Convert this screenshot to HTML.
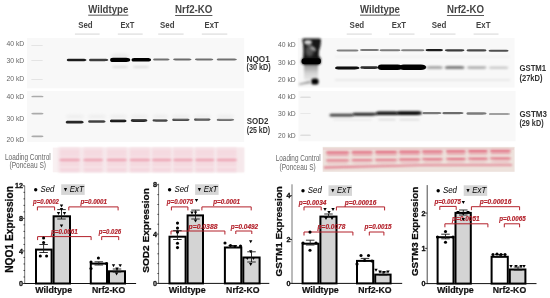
<!DOCTYPE html><html><head><meta charset="utf-8"><title>Nrf2 figure</title><style>html,body{margin:0;padding:0;background:#fff;overflow:hidden}svg{display:block}text{font-family:"Liberation Sans",Arial,sans-serif}</style></head><body>
<svg width="550" height="298" viewBox="0 0 550 298">
<defs>
<filter id="bl4" x="-50%" y="-300%" width="200%" height="700%"><feGaussianBlur stdDeviation="0.4"/></filter>
<filter id="bl5" x="-50%" y="-300%" width="200%" height="700%"><feGaussianBlur stdDeviation="0.5"/></filter>
<filter id="bl6" x="-50%" y="-300%" width="200%" height="700%"><feGaussianBlur stdDeviation="0.6"/></filter>
<filter id="bl7" x="-50%" y="-300%" width="200%" height="700%"><feGaussianBlur stdDeviation="0.7"/></filter>
<filter id="bl8" x="-50%" y="-300%" width="200%" height="700%"><feGaussianBlur stdDeviation="0.8"/></filter>
<filter id="bl9" x="-50%" y="-300%" width="200%" height="700%"><feGaussianBlur stdDeviation="0.9"/></filter>
<filter id="bl10" x="-50%" y="-300%" width="200%" height="700%"><feGaussianBlur stdDeviation="1.0"/></filter>
<filter id="bl12" x="-50%" y="-300%" width="200%" height="700%"><feGaussianBlur stdDeviation="1.2"/></filter>
<filter id="bl14" x="-50%" y="-300%" width="200%" height="700%"><feGaussianBlur stdDeviation="1.4"/></filter>
<filter id="bl16" x="-50%" y="-300%" width="200%" height="700%"><feGaussianBlur stdDeviation="1.6"/></filter>
<filter id="bl20" x="-50%" y="-300%" width="200%" height="700%"><feGaussianBlur stdDeviation="2.0"/></filter>
<filter id="bl25" x="-50%" y="-300%" width="200%" height="700%"><feGaussianBlur stdDeviation="2.5"/></filter>
</defs>
<rect width="550" height="298" fill="#fff"/>
<text transform="translate(88.20,12.60) scale(0.9364,1)" font-size="10.3" font-weight="bold" fill="#444">Wildtype</text>
<rect x="88.2" y="14.7" width="40.1" height="0.9" fill="#444"/>
<text transform="translate(175.10,12.90) scale(0.9447,1)" font-size="10.3" font-weight="bold" fill="#444">Nrf2-KO</text>
<rect x="175.1" y="15.0" width="37.3" height="0.9" fill="#444"/>
<text transform="translate(78.20,28.40) scale(0.8594,1)" font-size="9.2" font-weight="bold" fill="#444">Sed</text>
<text transform="translate(120.50,28.40) scale(0.8179,1)" font-size="9.2" font-weight="bold" fill="#444">ExT</text>
<text transform="translate(160.00,28.40) scale(0.8594,1)" font-size="9.2" font-weight="bold" fill="#444">Sed</text>
<text transform="translate(204.50,28.40) scale(0.8416,1)" font-size="9.2" font-weight="bold" fill="#444">ExT</text>
<rect x="74.9" y="33.7" width="24.7" height="0.7" fill="#c4c4c4"/>
<rect x="117.8" y="33.7" width="24.9" height="0.7" fill="#c4c4c4"/>
<rect x="158.2" y="33.7" width="25.4" height="0.7" fill="#c4c4c4"/>
<rect x="201.8" y="33.7" width="25.5" height="0.7" fill="#c4c4c4"/>
<text transform="translate(360.00,12.60) scale(0.9340,1)" font-size="10.3" font-weight="bold" fill="#444">Wildtype</text>
<rect x="360.0" y="14.7" width="40.0" height="0.9" fill="#444"/>
<text transform="translate(446.90,12.90) scale(0.9396,1)" font-size="10.3" font-weight="bold" fill="#444">Nrf2-KO</text>
<rect x="446.9" y="15.0" width="37.1" height="0.9" fill="#444"/>
<text transform="translate(349.60,28.40) scale(0.8653,1)" font-size="9.2" font-weight="bold" fill="#444">Sed</text>
<text transform="translate(391.80,28.40) scale(0.8416,1)" font-size="9.2" font-weight="bold" fill="#444">ExT</text>
<text transform="translate(431.80,28.40) scale(0.8653,1)" font-size="9.2" font-weight="bold" fill="#444">Sed</text>
<text transform="translate(476.00,28.40) scale(0.8594,1)" font-size="9.2" font-weight="bold" fill="#444">ExT</text>
<rect x="346.7" y="33.7" width="25.1" height="0.7" fill="#c4c4c4"/>
<rect x="389.0" y="33.7" width="25.5" height="0.7" fill="#c4c4c4"/>
<rect x="430.0" y="33.7" width="25.5" height="0.7" fill="#c4c4c4"/>
<rect x="473.6" y="33.7" width="24.9" height="0.7" fill="#c4c4c4"/>
<rect x="27" y="38" width="217.2" height="50.3" fill="#f8f8f8"/>
<rect x="27" y="91" width="217.2" height="51" fill="#f8f8f8"/>
<text transform="translate(6.50,45.50) scale(0.9875,1)" font-size="6.9" fill="#666">40 kD</text>
<text transform="translate(6.50,62.90) scale(0.9875,1)" font-size="6.9" fill="#666">30 kD</text>
<text transform="translate(6.50,81.00) scale(0.9875,1)" font-size="6.9" fill="#666">20 kD</text>
<text transform="translate(6.50,99.10) scale(0.9875,1)" font-size="6.9" fill="#666">40 kD</text>
<text transform="translate(6.50,120.60) scale(0.9875,1)" font-size="6.9" fill="#666">30 kD</text>
<text transform="translate(6.50,141.80) scale(0.9875,1)" font-size="6.9" fill="#666">20 kD</text>
<rect x="31.00" y="44.90" width="12.00" height="1.2" rx="1.44" ry="0.60" fill="#e4e4e4" filter="url(#bl6)"/>
<rect x="31.00" y="59.90" width="12.00" height="1.2" rx="1.44" ry="0.60" fill="#e4e4e4" filter="url(#bl6)"/>
<rect x="31.00" y="78.90" width="12.00" height="1.2" rx="1.44" ry="0.60" fill="#e4e4e4" filter="url(#bl6)"/>
<rect x="31.30" y="95.65" width="12.20" height="1.7" rx="2.04" ry="0.85" fill="#ababab" filter="url(#bl7)"/>
<rect x="31.30" y="112.75" width="12.20" height="1.7" rx="2.04" ry="0.85" fill="#ababab" filter="url(#bl7)"/>
<rect x="31.30" y="135.45" width="12.20" height="1.7" rx="2.04" ry="0.85" fill="#ababab" filter="url(#bl7)"/>
<rect x="111.00" y="53.50" width="18.00" height="5" rx="6.00" ry="2.50" fill="#ebebeb" filter="url(#bl14)"/>
<path d="M66.90,59.55 C67.29,58.75 68.85,58.75 71.19,58.75 L82.50,58.75 C84.84,58.75 86.21,59.25 86.40,59.75 L86.40,60.25 C86.21,60.75 84.84,61.25 82.50,61.25 L71.19,61.25 C68.85,61.25 67.29,61.25 66.90,60.45 Z" fill="#1e1e1e" filter="url(#bl6)"/>
<path d="M89.10,59.59 C89.48,58.85 91.01,58.85 93.30,58.85 L104.38,58.85 C106.67,58.85 108.01,59.31 108.20,59.77 L108.20,60.23 C108.01,60.69 106.67,61.15 104.38,61.15 L93.30,61.15 C91.01,61.15 89.48,61.15 89.10,60.41 Z" fill="#3c3c3c" filter="url(#bl6)"/>
<path d="M110.20,59.13 C110.60,57.75 112.20,57.75 114.60,57.75 L126.20,57.75 C128.60,57.75 130.00,58.61 130.20,59.47 L130.20,60.33 C130.00,61.19 128.60,62.05 126.20,62.05 L114.60,62.05 C112.20,62.05 110.60,62.05 110.20,60.67 Z" fill="#000" filter="url(#bl6)"/>
<path d="M131.60,59.19 C131.99,58.10 133.54,58.10 135.87,58.10 L147.12,58.10 C149.45,58.10 150.81,58.78 151.00,59.46 L151.00,60.14 C150.81,60.82 149.45,61.50 147.12,61.50 L135.87,61.50 C133.54,61.50 131.99,61.50 131.60,60.41 Z" fill="#050505" filter="url(#bl6)"/>
<path d="M153.20,59.24 C153.53,58.60 154.83,58.60 156.79,58.60 L166.24,58.60 C168.20,58.60 169.34,59.00 169.50,59.40 L169.50,59.80 C169.34,60.20 168.20,60.60 166.24,60.60 L156.79,60.60 C154.83,60.60 153.53,60.60 153.20,59.96 Z" fill="#707070" filter="url(#bl6)"/>
<path d="M173.20,59.14 C173.56,58.50 175.02,58.50 177.20,58.50 L187.76,58.50 C189.94,58.50 191.22,58.90 191.40,59.30 L191.40,59.70 C191.22,60.10 189.94,60.50 187.76,60.50 L177.20,60.50 C175.02,60.50 173.56,60.50 173.20,59.86 Z" fill="#6c6c6c" filter="url(#bl6)"/>
<path d="M195.00,59.14 C195.36,58.50 196.82,58.50 199.00,58.50 L209.56,58.50 C211.74,58.50 213.02,58.90 213.20,59.30 L213.20,59.70 C213.02,60.10 211.74,60.50 209.56,60.50 L199.00,60.50 C196.82,60.50 195.36,60.50 195.00,59.86 Z" fill="#707070" filter="url(#bl6)"/>
<path d="M216.80,59.24 C217.20,58.60 218.80,58.60 221.20,58.60 L232.80,58.60 C235.20,58.60 236.60,59.00 236.80,59.40 L236.80,59.80 C236.60,60.20 235.20,60.60 232.80,60.60 L221.20,60.60 C218.80,60.60 217.20,60.60 216.80,59.96 Z" fill="#707070" filter="url(#bl6)"/>
<rect x="112.00" y="66.15" width="16.00" height="1.5" rx="1.80" ry="0.75" fill="#d6d6d6" filter="url(#bl8)"/>
<rect x="133.00" y="66.15" width="16.00" height="1.5" rx="1.80" ry="0.75" fill="#d6d6d6" filter="url(#bl8)"/>
<path d="M65.80,121.70 C66.16,120.80 67.58,120.80 69.72,120.80 L80.04,120.80 C82.18,120.80 83.42,121.36 83.60,121.92 L83.60,122.48 C83.42,123.04 82.18,123.60 80.04,123.60 L69.72,123.60 C67.58,123.60 66.16,123.60 65.80,122.70 Z" fill="#262626" filter="url(#bl6)"/>
<path d="M88.20,121.03 C88.55,120.20 89.93,120.20 92.01,120.20 L102.04,120.20 C104.12,120.20 105.33,120.72 105.50,121.24 L105.50,121.76 C105.33,122.28 104.12,122.80 102.04,122.80 L92.01,122.80 C89.93,122.80 88.55,122.80 88.20,121.97 Z" fill="#404040" filter="url(#bl6)"/>
<path d="M110.00,120.40 C110.33,119.50 111.64,119.50 113.61,119.50 L123.12,119.50 C125.09,119.50 126.24,120.06 126.40,120.62 L126.40,121.18 C126.24,121.74 125.09,122.30 123.12,122.30 L113.61,122.30 C111.64,122.30 110.33,122.30 110.00,121.40 Z" fill="#161616" filter="url(#bl6)"/>
<path d="M130.90,120.00 C131.23,119.10 132.54,119.10 134.51,119.10 L144.02,119.10 C145.99,119.10 147.14,119.66 147.30,120.22 L147.30,120.78 C147.14,121.34 145.99,121.90 144.02,121.90 L134.51,121.90 C132.54,121.90 131.23,121.90 130.90,121.00 Z" fill="#262626" filter="url(#bl6)"/>
<path d="M152.60,119.95 C152.90,119.15 154.11,119.15 155.92,119.15 L164.68,119.15 C166.49,119.15 167.55,119.65 167.70,120.15 L167.70,120.65 C167.55,121.15 166.49,121.65 164.68,121.65 L155.92,121.65 C154.11,121.65 152.90,121.65 152.60,120.85 Z" fill="#404040" filter="url(#bl6)"/>
<path d="M172.30,119.25 C172.64,118.45 174.02,118.45 176.08,118.45 L186.06,118.45 C188.12,118.45 189.33,118.95 189.50,119.45 L189.50,119.95 C189.33,120.45 188.12,120.95 186.06,120.95 L176.08,120.95 C174.02,120.95 172.64,120.95 172.30,120.15 Z" fill="#404040" filter="url(#bl6)"/>
<path d="M194.10,119.15 C194.43,118.35 195.74,118.35 197.71,118.35 L207.22,118.35 C209.19,118.35 210.34,118.85 210.50,119.35 L210.50,119.85 C210.34,120.35 209.19,120.85 207.22,120.85 L197.71,120.85 C195.74,120.85 194.43,120.85 194.10,120.05 Z" fill="#404040" filter="url(#bl6)"/>
<path d="M216.80,119.40 C217.15,118.70 218.53,118.70 220.61,118.70 L230.64,118.70 C232.72,118.70 233.93,119.14 234.10,119.58 L234.10,120.02 C233.93,120.46 232.72,120.90 230.64,120.90 L220.61,120.90 C218.53,120.90 217.15,120.90 216.80,120.20 Z" fill="#666" filter="url(#bl6)"/>
<rect x="66.00" y="114.75" width="18.00" height="3.5" rx="4.20" ry="1.75" fill="#eeeeee" filter="url(#bl14)"/>
<rect x="88.00" y="114.75" width="18.00" height="3.5" rx="4.20" ry="1.75" fill="#eeeeee" filter="url(#bl14)"/>
<rect x="110.00" y="114.75" width="17.00" height="3.5" rx="4.20" ry="1.75" fill="#eeeeee" filter="url(#bl14)"/>
<rect x="131.00" y="114.75" width="17.00" height="3.5" rx="4.20" ry="1.75" fill="#eeeeee" filter="url(#bl14)"/>
<rect x="153.00" y="114.75" width="15.00" height="3.5" rx="4.20" ry="1.75" fill="#eeeeee" filter="url(#bl14)"/>
<rect x="172.00" y="114.75" width="18.00" height="3.5" rx="4.20" ry="1.75" fill="#eeeeee" filter="url(#bl14)"/>
<rect x="194.00" y="114.75" width="17.00" height="3.5" rx="4.20" ry="1.75" fill="#eeeeee" filter="url(#bl14)"/>
<rect x="217.00" y="114.75" width="17.00" height="3.5" rx="4.20" ry="1.75" fill="#eeeeee" filter="url(#bl14)"/>
<text transform="translate(246.60,61.60) scale(0.8803,1)" font-size="9.3" font-weight="bold" fill="#333">NQO1</text>
<text transform="translate(246.60,70.40) scale(0.8439,1)" font-size="8.6" font-weight="bold" fill="#333">(30 kD)</text>
<text transform="translate(246.80,124.10) scale(0.8529,1)" font-size="9.3" font-weight="bold" fill="#333">SOD2</text>
<text transform="translate(246.80,132.80) scale(0.8160,1)" font-size="8.6" font-weight="bold" fill="#333">(25 kD)</text>
<rect x="52.8" y="147.6" width="191.4" height="24.7" fill="#f9f1f2" filter="url(#bl6)"/>
<rect x="57.5" y="147.7" width="186.6" height="24.5" fill="#f6e8eb" filter="url(#bl8)"/>
<rect x="59.8" y="147.8" width="19.8" height="24.4" fill="#f6e0e5" filter="url(#bl12)"/>
<rect x="59.80" y="151.15" width="19.80" height="1.3" rx="1.56" ry="0.65" fill="#f3d0d8" filter="url(#bl8)"/>
<rect x="59.80" y="154.05" width="19.80" height="1.3" rx="1.56" ry="0.65" fill="#f4d4db" filter="url(#bl8)"/>
<rect x="59.80" y="163.75" width="19.80" height="1.3" rx="1.56" ry="0.65" fill="#f3d0d8" filter="url(#bl8)"/>
<rect x="59.80" y="168.95" width="19.80" height="1.3" rx="1.56" ry="0.65" fill="#f2ccd5" filter="url(#bl8)"/>
<rect x="59.30" y="158.80" width="20.80" height="2.4" rx="2.88" ry="1.20" fill="#eca0b0" filter="url(#bl10)"/>
<rect x="83.6" y="147.8" width="19.0" height="24.4" fill="#f6e0e5" filter="url(#bl12)"/>
<rect x="83.60" y="151.15" width="19.00" height="1.3" rx="1.56" ry="0.65" fill="#f3d0d8" filter="url(#bl8)"/>
<rect x="83.60" y="154.05" width="19.00" height="1.3" rx="1.56" ry="0.65" fill="#f4d4db" filter="url(#bl8)"/>
<rect x="83.60" y="163.75" width="19.00" height="1.3" rx="1.56" ry="0.65" fill="#f3d0d8" filter="url(#bl8)"/>
<rect x="83.60" y="168.95" width="19.00" height="1.3" rx="1.56" ry="0.65" fill="#f2ccd5" filter="url(#bl8)"/>
<rect x="83.10" y="158.80" width="20.00" height="2.4" rx="2.88" ry="1.20" fill="#eca0b0" filter="url(#bl10)"/>
<rect x="107" y="147.8" width="19.5" height="24.4" fill="#f6e0e5" filter="url(#bl12)"/>
<rect x="107.00" y="151.15" width="19.50" height="1.3" rx="1.56" ry="0.65" fill="#f3d0d8" filter="url(#bl8)"/>
<rect x="107.00" y="154.05" width="19.50" height="1.3" rx="1.56" ry="0.65" fill="#f4d4db" filter="url(#bl8)"/>
<rect x="107.00" y="163.75" width="19.50" height="1.3" rx="1.56" ry="0.65" fill="#f3d0d8" filter="url(#bl8)"/>
<rect x="107.00" y="168.95" width="19.50" height="1.3" rx="1.56" ry="0.65" fill="#f2ccd5" filter="url(#bl8)"/>
<rect x="106.50" y="158.80" width="20.50" height="2.4" rx="2.88" ry="1.20" fill="#eca0b0" filter="url(#bl10)"/>
<rect x="130" y="147.8" width="19.8" height="24.4" fill="#f6e0e5" filter="url(#bl12)"/>
<rect x="130.00" y="151.15" width="19.80" height="1.3" rx="1.56" ry="0.65" fill="#f3d0d8" filter="url(#bl8)"/>
<rect x="130.00" y="154.05" width="19.80" height="1.3" rx="1.56" ry="0.65" fill="#f4d4db" filter="url(#bl8)"/>
<rect x="130.00" y="163.75" width="19.80" height="1.3" rx="1.56" ry="0.65" fill="#f3d0d8" filter="url(#bl8)"/>
<rect x="130.00" y="168.95" width="19.80" height="1.3" rx="1.56" ry="0.65" fill="#f2ccd5" filter="url(#bl8)"/>
<rect x="129.50" y="158.80" width="20.80" height="2.4" rx="2.88" ry="1.20" fill="#eca0b0" filter="url(#bl10)"/>
<rect x="152.3" y="147.8" width="18.7" height="24.4" fill="#f6e0e5" filter="url(#bl12)"/>
<rect x="152.30" y="151.15" width="18.70" height="1.3" rx="1.56" ry="0.65" fill="#f3d0d8" filter="url(#bl8)"/>
<rect x="152.30" y="154.05" width="18.70" height="1.3" rx="1.56" ry="0.65" fill="#f4d4db" filter="url(#bl8)"/>
<rect x="152.30" y="163.75" width="18.70" height="1.3" rx="1.56" ry="0.65" fill="#f3d0d8" filter="url(#bl8)"/>
<rect x="152.30" y="168.95" width="18.70" height="1.3" rx="1.56" ry="0.65" fill="#f2ccd5" filter="url(#bl8)"/>
<rect x="151.80" y="158.80" width="19.70" height="2.4" rx="2.88" ry="1.20" fill="#eca0b0" filter="url(#bl10)"/>
<rect x="173.5" y="147.8" width="19.0" height="24.4" fill="#f6e0e5" filter="url(#bl12)"/>
<rect x="173.50" y="151.15" width="19.00" height="1.3" rx="1.56" ry="0.65" fill="#f3d0d8" filter="url(#bl8)"/>
<rect x="173.50" y="154.05" width="19.00" height="1.3" rx="1.56" ry="0.65" fill="#f4d4db" filter="url(#bl8)"/>
<rect x="173.50" y="163.75" width="19.00" height="1.3" rx="1.56" ry="0.65" fill="#f3d0d8" filter="url(#bl8)"/>
<rect x="173.50" y="168.95" width="19.00" height="1.3" rx="1.56" ry="0.65" fill="#f2ccd5" filter="url(#bl8)"/>
<rect x="173.00" y="158.80" width="20.00" height="2.4" rx="2.88" ry="1.20" fill="#eca0b0" filter="url(#bl10)"/>
<rect x="195.5" y="147.8" width="18.5" height="24.4" fill="#f6e0e5" filter="url(#bl12)"/>
<rect x="195.50" y="151.15" width="18.50" height="1.3" rx="1.56" ry="0.65" fill="#f3d0d8" filter="url(#bl8)"/>
<rect x="195.50" y="154.05" width="18.50" height="1.3" rx="1.56" ry="0.65" fill="#f4d4db" filter="url(#bl8)"/>
<rect x="195.50" y="163.75" width="18.50" height="1.3" rx="1.56" ry="0.65" fill="#f3d0d8" filter="url(#bl8)"/>
<rect x="195.50" y="168.95" width="18.50" height="1.3" rx="1.56" ry="0.65" fill="#f2ccd5" filter="url(#bl8)"/>
<rect x="195.00" y="158.80" width="19.50" height="2.4" rx="2.88" ry="1.20" fill="#eca0b0" filter="url(#bl10)"/>
<rect x="217" y="147.8" width="19.5" height="24.4" fill="#f6e0e5" filter="url(#bl12)"/>
<rect x="217.00" y="151.15" width="19.50" height="1.3" rx="1.56" ry="0.65" fill="#f3d0d8" filter="url(#bl8)"/>
<rect x="217.00" y="154.05" width="19.50" height="1.3" rx="1.56" ry="0.65" fill="#f4d4db" filter="url(#bl8)"/>
<rect x="217.00" y="163.75" width="19.50" height="1.3" rx="1.56" ry="0.65" fill="#f3d0d8" filter="url(#bl8)"/>
<rect x="217.00" y="168.95" width="19.50" height="1.3" rx="1.56" ry="0.65" fill="#f2ccd5" filter="url(#bl8)"/>
<rect x="216.50" y="158.80" width="20.50" height="2.4" rx="2.88" ry="1.20" fill="#eca0b0" filter="url(#bl10)"/>
<text transform="translate(5.00,160.00) scale(0.7911,1)" font-size="8.2" fill="#666">Loading Control</text>
<text transform="translate(9.50,167.80) scale(0.7656,1)" font-size="8.6" fill="#666">(Ponceau S)</text>
<rect x="297.8" y="38" width="216.8" height="49.6" fill="#f8f8f8"/>
<rect x="298.5" y="91" width="217" height="50.3" fill="#f8f8f8"/>
<text transform="translate(278.00,47.20) scale(0.9875,1)" font-size="6.9" fill="#666">40 kD</text>
<text transform="translate(278.00,65.30) scale(0.9875,1)" font-size="6.9" fill="#666">30 kD</text>
<text transform="translate(278.00,82.40) scale(0.9875,1)" font-size="6.9" fill="#666">20 kD</text>
<text transform="translate(278.00,99.30) scale(0.9875,1)" font-size="6.9" fill="#666">40 kD</text>
<text transform="translate(278.00,116.30) scale(0.9875,1)" font-size="6.9" fill="#666">30 kD</text>
<text transform="translate(278.00,138.10) scale(0.9875,1)" font-size="6.9" fill="#666">20 kD</text>
<defs><linearGradient id="lg1" x1="0" y1="0" x2="0" y2="1"><stop offset="0" stop-color="#8a8a8a"/><stop offset="0.6" stop-color="#d4d4d4"/><stop offset="1" stop-color="#e8e8e8"/></linearGradient></defs>
<rect x="304" y="63" width="14" height="17" fill="url(#lg1)" filter="url(#bl12)"/>
<path d="M302.3,39.5 Q302.2,38.6 304,38.6 L319.5,38.6 Q321.2,38.6 321,40.5 L320.4,46 Q318.6,50 318.8,56 L320.8,58.5 Q321.6,64.4 319,64.4 L304,64.4 Q301.1,64.4 301.4,61 L303.2,57 Q303.8,50 303.2,45 Z" fill="#161616" filter="url(#bl8)"/>
<ellipse cx="309.5" cy="51" rx="4.2" ry="5.5" fill="#555" filter="url(#bl16)"/>
<ellipse cx="313" cy="48.6" rx="3.4" ry="1.7" transform="rotate(35 313 48.6)" fill="#aaaaaa" filter="url(#bl10)"/>
<ellipse cx="309.5" cy="45.5" rx="2.2" ry="1.3" transform="rotate(35 309.5 45.5)" fill="#6a6a6a" filter="url(#bl10)"/>
<ellipse cx="308" cy="42.2" rx="3.8" ry="2.3" fill="#d4d4d4" filter="url(#bl9)"/>
<rect x="301.6" y="58.3" width="19.3" height="6" rx="2.8" fill="#000" filter="url(#bl7)"/>
<rect x="311.2" y="78.6" width="7.4" height="6" rx="2.6" fill="#000" filter="url(#bl8)"/>
<polygon points="298.6,83.8 310,80.6 311,83.2 299.5,85" fill="#a4a4a4" filter="url(#bl9)"/>
<rect x="336.50" y="49.40" width="22.00" height="2.0" rx="2.40" ry="1.00" fill="#808080" filter="url(#bl7)"/>
<rect x="360.00" y="49.00" width="19.00" height="2.0" rx="2.40" ry="1.00" fill="#787878" filter="url(#bl7)"/>
<rect x="379.50" y="49.20" width="21.00" height="2.0" rx="2.40" ry="1.00" fill="#7c7c7c" filter="url(#bl7)"/>
<rect x="401.00" y="49.20" width="23.50" height="2.0" rx="2.40" ry="1.00" fill="#828282" filter="url(#bl7)"/>
<rect x="425.50" y="48.90" width="17.50" height="2.4" rx="2.88" ry="1.20" fill="#1a1a1a" filter="url(#bl7)"/>
<rect x="444.80" y="49.15" width="19.70" height="2.3" rx="2.76" ry="1.15" fill="#3a3a3a" filter="url(#bl7)"/>
<rect x="466.50" y="49.30" width="20.00" height="2.2" rx="2.64" ry="1.10" fill="#4a4a4a" filter="url(#bl7)"/>
<rect x="488.50" y="49.70" width="20.10" height="2.0" rx="2.40" ry="1.00" fill="#505050" filter="url(#bl7)"/>
<path d="M335.20,67.46 C335.68,66.50 337.62,66.50 340.52,66.50 L354.56,66.50 C357.46,66.50 359.16,67.10 359.40,67.70 L359.40,68.30 C359.16,68.90 357.46,69.50 354.56,69.50 L340.52,69.50 C337.62,69.50 335.68,69.50 335.20,68.54 Z" fill="#0a0a0a" filter="url(#bl7)"/>
<path d="M360.40,67.13 C360.76,66.30 362.20,66.30 364.36,66.30 L374.80,66.30 C376.96,66.30 378.22,66.82 378.40,67.34 L378.40,67.86 C378.22,68.38 376.96,68.90 374.80,68.90 L364.36,68.90 C362.20,68.90 360.76,68.90 360.40,68.07 Z" fill="#2e2e2e" filter="url(#bl7)"/>
<path d="M378.00,66.29 C378.49,64.50 380.45,64.50 383.39,64.50 L397.60,64.50 C400.54,64.50 402.25,65.62 402.50,66.74 L402.50,67.86 C402.25,68.98 400.54,70.10 397.60,70.10 L383.39,70.10 C380.45,70.10 378.49,70.10 378.00,68.31 Z" fill="#000" filter="url(#bl7)"/>
<path d="M400.00,66.19 C400.52,64.40 402.62,64.40 405.76,64.40 L420.96,64.40 C424.10,64.40 425.94,65.52 426.20,66.64 L426.20,67.76 C425.94,68.88 424.10,70.00 420.96,70.00 L405.76,70.00 C402.62,70.00 400.52,70.00 400.00,68.21 Z" fill="#000" filter="url(#bl7)"/>
<rect x="426.50" y="66.10" width="16.30" height="3.0" rx="3.60" ry="1.50" fill="#a8a8a8" filter="url(#bl9)"/>
<rect x="444.80" y="65.90" width="19.70" height="3.0" rx="3.60" ry="1.50" fill="#7c7c7c" filter="url(#bl9)"/>
<rect x="467.00" y="66.30" width="19.50" height="2.6" rx="3.12" ry="1.30" fill="#aeaeae" filter="url(#bl9)"/>
<rect x="488.80" y="66.60" width="19.60" height="2.4" rx="2.88" ry="1.20" fill="#cacaca" filter="url(#bl9)"/>
<rect x="335" y="79.2" width="175" height="1.6" fill="#e6e6e6" filter="url(#bl8)"/>
<rect x="335" y="56" width="175" height="1.4" fill="#eeeeee" filter="url(#bl8)"/>
<rect x="300.00" y="96.50" width="11.00" height="1.4" rx="1.68" ry="0.70" fill="#dedede" filter="url(#bl7)"/>
<rect x="300.00" y="134.50" width="11.00" height="1.4" rx="1.68" ry="0.70" fill="#dedede" filter="url(#bl7)"/>
<rect x="300.00" y="112.90" width="11.00" height="1.2" rx="1.44" ry="0.60" fill="#e8e8e8" filter="url(#bl7)"/>
<path d="M329.50,114.70 C329.99,113.80 331.95,113.80 334.89,113.80 L349.10,113.80 C352.04,113.80 353.75,114.36 354.00,114.92 L354.00,115.48 C353.75,116.04 352.04,116.60 349.10,116.60 L334.89,116.60 C331.95,116.60 329.99,116.60 329.50,115.70 Z" fill="#3a3a3a" filter="url(#bl8)"/>
<path d="M352.50,113.66 C352.99,112.70 354.95,112.70 357.89,112.70 L372.10,112.70 C375.04,112.70 376.75,113.30 377.00,113.90 L377.00,114.50 C376.75,115.10 375.04,115.70 372.10,115.70 L357.89,115.70 C354.95,115.70 352.99,115.70 352.50,114.74 Z" fill="#222" filter="url(#bl8)"/>
<path d="M376.00,112.65 C376.44,111.50 378.20,111.50 380.84,111.50 L393.60,111.50 C396.24,111.50 397.78,112.22 398.00,112.94 L398.00,113.66 C397.78,114.38 396.24,115.10 393.60,115.10 L380.84,115.10 C378.20,115.10 376.44,115.10 376.00,113.95 Z" fill="#080808" filter="url(#bl8)"/>
<path d="M396.50,112.45 C397.01,111.30 399.05,111.30 402.11,111.30 L416.90,111.30 C419.96,111.30 421.75,112.02 422.00,112.74 L422.00,113.46 C421.75,114.18 419.96,114.90 416.90,114.90 L402.11,114.90 C399.05,114.90 397.01,114.90 396.50,113.75 Z" fill="#000" filter="url(#bl8)"/>
<path d="M422.50,112.69 C422.88,111.95 424.40,111.95 426.68,111.95 L437.70,111.95 C439.98,111.95 441.31,112.41 441.50,112.87 L441.50,113.33 C441.31,113.79 439.98,114.25 437.70,114.25 L426.68,114.25 C424.40,114.25 422.88,114.25 422.50,113.51 Z" fill="#7a7a7a" filter="url(#bl7)"/>
<path d="M442.40,112.67 C442.82,111.90 444.51,111.90 447.04,111.90 L459.28,111.90 C461.81,111.90 463.29,112.38 463.50,112.86 L463.50,113.34 C463.29,113.82 461.81,114.30 459.28,114.30 L447.04,114.30 C444.51,114.30 442.82,114.30 442.40,113.53 Z" fill="#6c6c6c" filter="url(#bl7)"/>
<path d="M466.50,113.09 C466.90,112.35 468.50,112.35 470.90,112.35 L482.50,112.35 C484.90,112.35 486.30,112.81 486.50,113.27 L486.50,113.73 C486.30,114.19 484.90,114.65 482.50,114.65 L470.90,114.65 C468.50,114.65 466.90,114.65 466.50,113.91 Z" fill="#7c7c7c" filter="url(#bl7)"/>
<path d="M489.00,113.62 C489.42,112.95 491.10,112.95 493.62,112.95 L505.80,112.95 C508.32,112.95 509.79,113.37 510.00,113.79 L510.00,114.21 C509.79,114.63 508.32,115.05 505.80,115.05 L493.62,115.05 C491.10,115.05 489.42,115.05 489.00,114.38 Z" fill="#a0a0a0" filter="url(#bl7)"/>
<rect x="378.00" y="118.95" width="18.00" height="1.3" rx="1.56" ry="0.65" fill="#d2d2d2" filter="url(#bl8)"/>
<rect x="399.00" y="118.95" width="21.00" height="1.3" rx="1.56" ry="0.65" fill="#d2d2d2" filter="url(#bl8)"/>
<rect x="333.00" y="119.30" width="39.00" height="1.0" rx="1.20" ry="0.50" fill="#e0e0e0" filter="url(#bl8)"/>
<text transform="translate(519.40,71.10) scale(0.8365,1)" font-size="9.3" font-weight="bold" fill="#333">GSTM1</text>
<text transform="translate(519.40,80.60) scale(0.8826,1)" font-size="8.6" font-weight="bold" fill="#333">(27kD)</text>
<text transform="translate(519.40,116.70) scale(0.8615,1)" font-size="9.3" font-weight="bold" fill="#333">GSTM3</text>
<text transform="translate(519.40,125.60) scale(0.8439,1)" font-size="8.6" font-weight="bold" fill="#333">(29 kD)</text>
<rect x="322.7" y="146.9" width="191.9" height="24.9" fill="#ede2dc"/>
<path d="M326.00,152.24 C326.47,151.60 328.35,151.60 331.17,151.60 L344.80,151.60 C347.62,151.60 349.26,152.00 349.50,152.40 L349.50,152.80 C349.26,153.20 347.62,153.60 344.80,153.60 L331.17,153.60 C328.35,153.60 326.47,153.60 326.00,152.96 Z" fill="#dc3352" opacity="0.8" filter="url(#bl8)"/>
<path d="M326.50,154.75 C326.95,154.30 328.75,154.30 331.45,154.30 L344.50,154.30 C347.20,154.30 348.77,154.58 349.00,154.86 L349.00,155.14 C348.77,155.42 347.20,155.70 344.50,155.70 L331.45,155.70 C328.75,155.70 326.95,155.70 326.50,155.25 Z" fill="#e05a72" opacity="0.6" filter="url(#bl8)"/>
<path d="M326.00,160.06 C326.47,159.45 328.35,159.45 331.17,159.45 L344.80,159.45 C347.62,159.45 349.26,159.83 349.50,160.21 L349.50,160.59 C349.26,160.97 347.62,161.35 344.80,161.35 L331.17,161.35 C328.35,161.35 326.47,161.35 326.00,160.74 Z" fill="#dc3a58" opacity="0.75" filter="url(#bl8)"/>
<path d="M327.00,162.98 C327.43,162.60 329.15,162.60 331.73,162.60 L344.20,162.60 C346.78,162.60 348.29,162.84 348.50,163.08 L348.50,163.32 C348.29,163.56 346.78,163.80 344.20,163.80 L331.73,163.80 C329.15,163.80 327.43,163.80 327.00,163.42 Z" fill="#e47a8c" opacity="0.45" filter="url(#bl8)"/>
<path d="M351.50,151.99 C351.93,151.35 353.65,151.35 356.23,151.35 L368.70,151.35 C371.28,151.35 372.79,151.75 373.00,152.15 L373.00,152.55 C372.79,152.95 371.28,153.35 368.70,153.35 L356.23,153.35 C353.65,153.35 351.93,153.35 351.50,152.71 Z" fill="#dc3352" opacity="0.8" filter="url(#bl8)"/>
<path d="M352.00,154.50 C352.41,154.05 354.05,154.05 356.51,154.05 L368.40,154.05 C370.86,154.05 372.30,154.33 372.50,154.61 L372.50,154.89 C372.30,155.17 370.86,155.45 368.40,155.45 L356.51,155.45 C354.05,155.45 352.41,155.45 352.00,155.00 Z" fill="#e05a72" opacity="0.6" filter="url(#bl8)"/>
<path d="M351.50,159.78 C351.93,159.17 353.65,159.17 356.23,159.17 L368.70,159.17 C371.28,159.17 372.79,159.55 373.00,159.93 L373.00,160.31 C372.79,160.69 371.28,161.07 368.70,161.07 L356.23,161.07 C353.65,161.07 351.93,161.07 351.50,160.46 Z" fill="#dc3a58" opacity="0.75" filter="url(#bl8)"/>
<path d="M352.50,162.78 C352.89,162.40 354.45,162.40 356.79,162.40 L368.10,162.40 C370.44,162.40 371.81,162.64 372.00,162.88 L372.00,163.12 C371.81,163.36 370.44,163.60 368.10,163.60 L356.79,163.60 C354.45,163.60 352.89,163.60 352.50,163.22 Z" fill="#e47a8c" opacity="0.45" filter="url(#bl8)"/>
<path d="M375.00,151.74 C375.45,151.10 377.25,151.10 379.95,151.10 L393.00,151.10 C395.70,151.10 397.27,151.50 397.50,151.90 L397.50,152.30 C397.27,152.70 395.70,153.10 393.00,153.10 L379.95,153.10 C377.25,153.10 375.45,153.10 375.00,152.46 Z" fill="#dc3352" opacity="0.8" filter="url(#bl8)"/>
<path d="M375.50,154.25 C375.93,153.80 377.65,153.80 380.23,153.80 L392.70,153.80 C395.28,153.80 396.79,154.08 397.00,154.36 L397.00,154.64 C396.79,154.92 395.28,155.20 392.70,155.20 L380.23,155.20 C377.65,155.20 375.93,155.20 375.50,154.75 Z" fill="#e05a72" opacity="0.6" filter="url(#bl8)"/>
<path d="M375.00,159.50 C375.45,158.89 377.25,158.89 379.95,158.89 L393.00,158.89 C395.70,158.89 397.27,159.27 397.50,159.65 L397.50,160.03 C397.27,160.41 395.70,160.79 393.00,160.79 L379.95,160.79 C377.25,160.79 375.45,160.79 375.00,160.18 Z" fill="#dc3a58" opacity="0.75" filter="url(#bl8)"/>
<path d="M376.00,162.58 C376.41,162.20 378.05,162.20 380.51,162.20 L392.40,162.20 C394.86,162.20 396.30,162.44 396.50,162.68 L396.50,162.92 C396.30,163.16 394.86,163.40 392.40,163.40 L380.51,163.40 C378.05,163.40 376.41,163.40 376.00,163.02 Z" fill="#e47a8c" opacity="0.45" filter="url(#bl8)"/>
<path d="M399.00,151.49 C399.43,150.85 401.15,150.85 403.73,150.85 L416.20,150.85 C418.78,150.85 420.29,151.25 420.50,151.65 L420.50,152.05 C420.29,152.45 418.78,152.85 416.20,152.85 L403.73,152.85 C401.15,152.85 399.43,152.85 399.00,152.21 Z" fill="#dc3352" opacity="0.8" filter="url(#bl8)"/>
<path d="M399.50,154.00 C399.91,153.55 401.55,153.55 404.01,153.55 L415.90,153.55 C418.36,153.55 419.80,153.83 420.00,154.11 L420.00,154.39 C419.80,154.67 418.36,154.95 415.90,154.95 L404.01,154.95 C401.55,154.95 399.91,154.95 399.50,154.50 Z" fill="#e05a72" opacity="0.6" filter="url(#bl8)"/>
<path d="M399.00,159.22 C399.43,158.61 401.15,158.61 403.73,158.61 L416.20,158.61 C418.78,158.61 420.29,158.99 420.50,159.37 L420.50,159.75 C420.29,160.13 418.78,160.51 416.20,160.51 L403.73,160.51 C401.15,160.51 399.43,160.51 399.00,159.90 Z" fill="#dc3a58" opacity="0.75" filter="url(#bl8)"/>
<path d="M400.00,162.38 C400.39,162.00 401.95,162.00 404.29,162.00 L415.60,162.00 C417.94,162.00 419.31,162.24 419.50,162.48 L419.50,162.72 C419.31,162.96 417.94,163.20 415.60,163.20 L404.29,163.20 C401.95,163.20 400.39,163.20 400.00,162.82 Z" fill="#e47a8c" opacity="0.45" filter="url(#bl8)"/>
<path d="M422.00,151.24 C422.42,150.60 424.10,150.60 426.62,150.60 L438.80,150.60 C441.32,150.60 442.79,151.00 443.00,151.40 L443.00,151.80 C442.79,152.20 441.32,152.60 438.80,152.60 L426.62,152.60 C424.10,152.60 422.42,152.60 422.00,151.96 Z" fill="#dc3352" opacity="0.8" filter="url(#bl8)"/>
<path d="M422.50,153.75 C422.90,153.30 424.50,153.30 426.90,153.30 L438.50,153.30 C440.90,153.30 442.30,153.58 442.50,153.86 L442.50,154.14 C442.30,154.42 440.90,154.70 438.50,154.70 L426.90,154.70 C424.50,154.70 422.90,154.70 422.50,154.25 Z" fill="#e05a72" opacity="0.6" filter="url(#bl8)"/>
<path d="M422.00,158.94 C422.42,158.33 424.10,158.33 426.62,158.33 L438.80,158.33 C441.32,158.33 442.79,158.71 443.00,159.09 L443.00,159.47 C442.79,159.85 441.32,160.23 438.80,160.23 L426.62,160.23 C424.10,160.23 422.42,160.23 422.00,159.62 Z" fill="#dc3a58" opacity="0.75" filter="url(#bl8)"/>
<path d="M423.00,162.18 C423.38,161.80 424.90,161.80 427.18,161.80 L438.20,161.80 C440.48,161.80 441.81,162.04 442.00,162.28 L442.00,162.52 C441.81,162.76 440.48,163.00 438.20,163.00 L427.18,163.00 C424.90,163.00 423.38,163.00 423.00,162.62 Z" fill="#e47a8c" opacity="0.45" filter="url(#bl8)"/>
<path d="M446.00,150.99 C446.40,150.35 448.00,150.35 450.40,150.35 L462.00,150.35 C464.40,150.35 465.80,150.75 466.00,151.15 L466.00,151.55 C465.80,151.95 464.40,152.35 462.00,152.35 L450.40,152.35 C448.00,152.35 446.40,152.35 446.00,151.71 Z" fill="#dc3352" opacity="0.8" filter="url(#bl8)"/>
<path d="M446.50,153.50 C446.88,153.05 448.40,153.05 450.68,153.05 L461.70,153.05 C463.98,153.05 465.31,153.33 465.50,153.61 L465.50,153.89 C465.31,154.17 463.98,154.45 461.70,154.45 L450.68,154.45 C448.40,154.45 446.88,154.45 446.50,154.00 Z" fill="#e05a72" opacity="0.6" filter="url(#bl8)"/>
<path d="M446.00,158.66 C446.40,158.05 448.00,158.05 450.40,158.05 L462.00,158.05 C464.40,158.05 465.80,158.43 466.00,158.81 L466.00,159.19 C465.80,159.57 464.40,159.95 462.00,159.95 L450.40,159.95 C448.00,159.95 446.40,159.95 446.00,159.34 Z" fill="#dc3a58" opacity="0.75" filter="url(#bl8)"/>
<path d="M447.00,161.98 C447.36,161.60 448.80,161.60 450.96,161.60 L461.40,161.60 C463.56,161.60 464.82,161.84 465.00,162.08 L465.00,162.32 C464.82,162.56 463.56,162.80 461.40,162.80 L450.96,162.80 C448.80,162.80 447.36,162.80 447.00,162.42 Z" fill="#e47a8c" opacity="0.45" filter="url(#bl8)"/>
<path d="M468.00,150.74 C468.40,150.10 470.00,150.10 472.40,150.10 L484.00,150.10 C486.40,150.10 487.80,150.50 488.00,150.90 L488.00,151.30 C487.80,151.70 486.40,152.10 484.00,152.10 L472.40,152.10 C470.00,152.10 468.40,152.10 468.00,151.46 Z" fill="#dc3352" opacity="0.8" filter="url(#bl8)"/>
<path d="M468.50,153.25 C468.88,152.80 470.40,152.80 472.68,152.80 L483.70,152.80 C485.98,152.80 487.31,153.08 487.50,153.36 L487.50,153.64 C487.31,153.92 485.98,154.20 483.70,154.20 L472.68,154.20 C470.40,154.20 468.88,154.20 468.50,153.75 Z" fill="#e05a72" opacity="0.6" filter="url(#bl8)"/>
<path d="M468.00,158.38 C468.40,157.77 470.00,157.77 472.40,157.77 L484.00,157.77 C486.40,157.77 487.80,158.15 488.00,158.53 L488.00,158.91 C487.80,159.29 486.40,159.67 484.00,159.67 L472.40,159.67 C470.00,159.67 468.40,159.67 468.00,159.06 Z" fill="#dc3a58" opacity="0.75" filter="url(#bl8)"/>
<path d="M469.00,161.78 C469.36,161.40 470.80,161.40 472.96,161.40 L483.40,161.40 C485.56,161.40 486.82,161.64 487.00,161.88 L487.00,162.12 C486.82,162.36 485.56,162.60 483.40,162.60 L472.96,162.60 C470.80,162.60 469.36,162.60 469.00,162.22 Z" fill="#e47a8c" opacity="0.45" filter="url(#bl8)"/>
<path d="M490.00,150.49 C490.42,149.85 492.10,149.85 494.62,149.85 L506.80,149.85 C509.32,149.85 510.79,150.25 511.00,150.65 L511.00,151.05 C510.79,151.45 509.32,151.85 506.80,151.85 L494.62,151.85 C492.10,151.85 490.42,151.85 490.00,151.21 Z" fill="#dc3352" opacity="0.8" filter="url(#bl8)"/>
<path d="M490.50,153.00 C490.90,152.55 492.50,152.55 494.90,152.55 L506.50,152.55 C508.90,152.55 510.30,152.83 510.50,153.11 L510.50,153.39 C510.30,153.67 508.90,153.95 506.50,153.95 L494.90,153.95 C492.50,153.95 490.90,153.95 490.50,153.50 Z" fill="#e05a72" opacity="0.6" filter="url(#bl8)"/>
<path d="M490.00,158.10 C490.42,157.49 492.10,157.49 494.62,157.49 L506.80,157.49 C509.32,157.49 510.79,157.87 511.00,158.25 L511.00,158.63 C510.79,159.01 509.32,159.39 506.80,159.39 L494.62,159.39 C492.10,159.39 490.42,159.39 490.00,158.78 Z" fill="#dc3a58" opacity="0.75" filter="url(#bl8)"/>
<path d="M491.00,161.58 C491.38,161.20 492.90,161.20 495.18,161.20 L506.20,161.20 C508.48,161.20 509.81,161.44 510.00,161.68 L510.00,161.92 C509.81,162.16 508.48,162.40 506.20,162.40 L495.18,162.40 C492.90,162.40 491.38,162.40 491.00,162.02 Z" fill="#e47a8c" opacity="0.45" filter="url(#bl8)"/>
<polygon points="324,166.6 420,164.6 512,164.2 512,165.7 420,166.0 324,168.4" fill="#dc4a66" filter="url(#bl8)" opacity="0.7"/>
<rect x="323" y="148.6" width="191" height="0.8" fill="#e8c4c8" filter="url(#bl5)"/>
<text transform="translate(275.80,161.30) scale(0.7772,1)" font-size="8.2" fill="#666">Loading Control</text>
<text transform="translate(279.60,169.70) scale(0.7400,1)" font-size="8.8" fill="#666">(Ponceau S)</text>
<line x1="24.7" y1="185.8" x2="24.7" y2="283.5" stroke="#777" stroke-width="1"/>
<line x1="24.2" y1="283.5" x2="136.1" y2="283.5" stroke="#111" stroke-width="1"/>
<line x1="22.7" y1="283.50" x2="24.7" y2="283.50" stroke="#222" stroke-width="0.9"/>
<text x="23.099999999999998" y="286.1" font-size="7.2" font-weight="bold" text-anchor="end" fill="#111" stroke="#111" stroke-width="0.3">0</text>
<line x1="22.7" y1="250.94" x2="24.7" y2="250.94" stroke="#222" stroke-width="0.9"/>
<text x="23.099999999999998" y="253.54" font-size="7.2" font-weight="bold" text-anchor="end" fill="#111" stroke="#111" stroke-width="0.3">4</text>
<line x1="22.7" y1="218.38" x2="24.7" y2="218.38" stroke="#222" stroke-width="0.9"/>
<text x="23.099999999999998" y="220.98" font-size="7.2" font-weight="bold" text-anchor="end" fill="#111" stroke="#111" stroke-width="0.3">8</text>
<line x1="22.7" y1="185.82" x2="24.7" y2="185.82" stroke="#222" stroke-width="0.9"/>
<text x="23.099999999999998" y="188.42" font-size="7.2" font-weight="bold" text-anchor="end" fill="#111" stroke="#111" stroke-width="0.3">12</text>
<line x1="23.5" y1="276.99" x2="25.0" y2="276.99" stroke="#333" stroke-width="0.9"/>
<line x1="23.5" y1="270.48" x2="25.0" y2="270.48" stroke="#333" stroke-width="0.9"/>
<line x1="23.5" y1="263.96" x2="25.0" y2="263.96" stroke="#333" stroke-width="0.9"/>
<line x1="23.5" y1="257.45" x2="25.0" y2="257.45" stroke="#333" stroke-width="0.9"/>
<line x1="23.5" y1="244.43" x2="25.0" y2="244.43" stroke="#333" stroke-width="0.9"/>
<line x1="23.5" y1="237.92" x2="25.0" y2="237.92" stroke="#333" stroke-width="0.9"/>
<line x1="23.5" y1="231.40" x2="25.0" y2="231.40" stroke="#333" stroke-width="0.9"/>
<line x1="23.5" y1="224.89" x2="25.0" y2="224.89" stroke="#333" stroke-width="0.9"/>
<line x1="23.5" y1="211.87" x2="25.0" y2="211.87" stroke="#333" stroke-width="0.9"/>
<line x1="23.5" y1="205.36" x2="25.0" y2="205.36" stroke="#333" stroke-width="0.9"/>
<line x1="23.5" y1="198.84" x2="25.0" y2="198.84" stroke="#333" stroke-width="0.9"/>
<line x1="23.5" y1="192.33" x2="25.0" y2="192.33" stroke="#333" stroke-width="0.9"/>
<rect x="36.0" y="249.6" width="15.60" height="33.90" fill="#fff" stroke="#000" stroke-width="2"/>
<rect x="53.6" y="216.3" width="16.40" height="67.20" fill="#d4d4d4" stroke="#000" stroke-width="2"/>
<rect x="90.8" y="263.6" width="16.20" height="19.90" fill="#fff" stroke="#000" stroke-width="2"/>
<rect x="109.0" y="271.3" width="16.00" height="12.20" fill="#d4d4d4" stroke="#000" stroke-width="2"/>
<text transform="translate(12.6,272.8) rotate(-90) scale(1.0208,1)" font-size="10.0" font-weight="bold" fill="#0a0a0a" stroke="#0a0a0a" stroke-width="0.25">NQO1 Expression</text>
<text transform="translate(35.30,293.40) scale(1.0113,1)" font-size="8.8" font-weight="bold" fill="#111" stroke="#111" stroke-width="0.2">Wildtype</text>
<text transform="translate(92.00,293.40) scale(0.9901,1)" font-size="8.8" font-weight="bold" fill="#111" stroke="#111" stroke-width="0.2">Nrf2-KO</text>
<circle cx="35.7" cy="189.7" r="1.7" fill="#000"/>
<text transform="translate(40.50,192.40) scale(0.9367,1)" font-size="8.4" font-style="italic" fill="#000">Sed</text>
<rect x="61.2" y="184.3" width="23.5" height="10.6" fill="#d6d6d6"/>
<polygon points="63.900000000000006,188.0 67.10000000000001,188.0 65.5,191.5" fill="#000"/>
<text transform="translate(69.80,192.40) scale(0.9375,1)" font-size="8.4" font-style="italic" fill="#000">ExT</text>
<line x1="158.6" y1="183.7" x2="158.6" y2="283.4" stroke="#777" stroke-width="1"/>
<line x1="158.1" y1="283.4" x2="269.3" y2="283.4" stroke="#111" stroke-width="1"/>
<line x1="156.6" y1="283.40" x2="158.6" y2="283.40" stroke="#222" stroke-width="0.9"/>
<text x="157.0" y="286.0" font-size="7.2" font-weight="bold" text-anchor="end" fill="#111" stroke="#111" stroke-width="0.3">0</text>
<line x1="156.6" y1="234.08" x2="158.6" y2="234.08" stroke="#222" stroke-width="0.9"/>
<text x="157.0" y="236.67999999999998" font-size="7.2" font-weight="bold" text-anchor="end" fill="#111" stroke="#111" stroke-width="0.3">4</text>
<line x1="156.6" y1="184.76" x2="158.6" y2="184.76" stroke="#222" stroke-width="0.9"/>
<text x="157.0" y="187.35999999999999" font-size="7.2" font-weight="bold" text-anchor="end" fill="#111" stroke="#111" stroke-width="0.3">8</text>
<line x1="157.4" y1="273.54" x2="158.9" y2="273.54" stroke="#333" stroke-width="0.9"/>
<line x1="157.4" y1="263.67" x2="158.9" y2="263.67" stroke="#333" stroke-width="0.9"/>
<line x1="157.4" y1="253.81" x2="158.9" y2="253.81" stroke="#333" stroke-width="0.9"/>
<line x1="157.4" y1="243.94" x2="158.9" y2="243.94" stroke="#333" stroke-width="0.9"/>
<line x1="157.4" y1="224.22" x2="158.9" y2="224.22" stroke="#333" stroke-width="0.9"/>
<line x1="157.4" y1="214.35" x2="158.9" y2="214.35" stroke="#333" stroke-width="0.9"/>
<line x1="157.4" y1="204.49" x2="158.9" y2="204.49" stroke="#333" stroke-width="0.9"/>
<line x1="157.4" y1="194.62" x2="158.9" y2="194.62" stroke="#333" stroke-width="0.9"/>
<rect x="169.5" y="236.7" width="16.10" height="46.70" fill="#fff" stroke="#000" stroke-width="2"/>
<rect x="187.6" y="215.4" width="15.40" height="68.00" fill="#d4d4d4" stroke="#000" stroke-width="2"/>
<rect x="224.9" y="247.5" width="16.40" height="35.90" fill="#fff" stroke="#000" stroke-width="2"/>
<rect x="243.3" y="257.5" width="16.30" height="25.90" fill="#d4d4d4" stroke="#000" stroke-width="2"/>
<text transform="translate(149.1,272.8) rotate(-90) scale(1.0750,1)" font-size="9.4" font-weight="bold" fill="#0a0a0a" stroke="#0a0a0a" stroke-width="0.25">SOD2 Expression</text>
<text transform="translate(168.80,293.40) scale(1.0113,1)" font-size="8.8" font-weight="bold" fill="#111" stroke="#111" stroke-width="0.2">Wildtype</text>
<text transform="translate(226.10,293.40) scale(0.9901,1)" font-size="8.8" font-weight="bold" fill="#111" stroke="#111" stroke-width="0.2">Nrf2-KO</text>
<circle cx="169.6" cy="189.7" r="1.7" fill="#000"/>
<text transform="translate(174.40,192.40) scale(0.9367,1)" font-size="8.4" font-style="italic" fill="#000">Sed</text>
<rect x="195.1" y="184.3" width="23.5" height="10.6" fill="#d6d6d6"/>
<polygon points="197.8,188.0 201.0,188.0 199.4,191.5" fill="#000"/>
<text transform="translate(203.70,192.40) scale(0.9375,1)" font-size="8.4" font-style="italic" fill="#000">ExT</text>
<line x1="292.0" y1="184.3" x2="292.0" y2="283.4" stroke="#777" stroke-width="1"/>
<line x1="291.5" y1="283.4" x2="402.2" y2="283.4" stroke="#111" stroke-width="1"/>
<line x1="290.0" y1="283.40" x2="292.0" y2="283.40" stroke="#222" stroke-width="0.9"/>
<text x="290.4" y="286.0" font-size="7.2" font-weight="bold" text-anchor="end" fill="#111" stroke="#111" stroke-width="0.3">0</text>
<line x1="290.0" y1="239.54" x2="292.0" y2="239.54" stroke="#222" stroke-width="0.9"/>
<text x="290.4" y="242.13999999999996" font-size="7.2" font-weight="bold" text-anchor="end" fill="#111" stroke="#111" stroke-width="0.3">2</text>
<line x1="290.0" y1="195.68" x2="292.0" y2="195.68" stroke="#222" stroke-width="0.9"/>
<text x="290.4" y="198.27999999999997" font-size="7.2" font-weight="bold" text-anchor="end" fill="#111" stroke="#111" stroke-width="0.3">4</text>
<rect x="302.6" y="243.7" width="15.80" height="39.70" fill="#fff" stroke="#000" stroke-width="2"/>
<rect x="320.4" y="216.6" width="16.10" height="66.80" fill="#d4d4d4" stroke="#000" stroke-width="2"/>
<rect x="357.0" y="260.9" width="16.20" height="22.50" fill="#fff" stroke="#000" stroke-width="2"/>
<rect x="375.2" y="274.6" width="15.40" height="8.80" fill="#d4d4d4" stroke="#000" stroke-width="2"/>
<text transform="translate(282.4,276.4) rotate(-90) scale(1.0121,1)" font-size="9.8" font-weight="bold" fill="#0a0a0a" stroke="#0a0a0a" stroke-width="0.25">GSTM1 Expression</text>
<text transform="translate(301.90,293.40) scale(1.0113,1)" font-size="8.8" font-weight="bold" fill="#111" stroke="#111" stroke-width="0.2">Wildtype</text>
<text transform="translate(358.20,293.40) scale(0.9901,1)" font-size="8.8" font-weight="bold" fill="#111" stroke="#111" stroke-width="0.2">Nrf2-KO</text>
<circle cx="303.0" cy="190.7" r="1.7" fill="#000"/>
<text transform="translate(307.80,193.40) scale(0.9367,1)" font-size="8.4" font-style="italic" fill="#000">Sed</text>
<rect x="328.5" y="185.3" width="23.5" height="10.6" fill="#d6d6d6"/>
<polygon points="331.2,189.0 334.4,189.0 332.8,192.5" fill="#000"/>
<text transform="translate(337.10,193.40) scale(0.9375,1)" font-size="8.4" font-style="italic" fill="#000">ExT</text>
<line x1="427.2" y1="185.1" x2="427.2" y2="283.6" stroke="#4a4a4a" stroke-width="1"/>
<line x1="426.7" y1="283.6" x2="536.5" y2="283.6" stroke="#111" stroke-width="1"/>
<line x1="425.2" y1="283.60" x2="427.2" y2="283.60" stroke="#222" stroke-width="0.9"/>
<text x="425.59999999999997" y="286.20000000000005" font-size="7.2" font-weight="bold" text-anchor="end" fill="#111" stroke="#111" stroke-width="0.3">0</text>
<line x1="425.2" y1="248.35" x2="427.2" y2="248.35" stroke="#222" stroke-width="0.9"/>
<text x="425.59999999999997" y="250.95000000000002" font-size="7.2" font-weight="bold" text-anchor="end" fill="#111" stroke="#111" stroke-width="0.3">1</text>
<line x1="425.2" y1="213.10" x2="427.2" y2="213.10" stroke="#222" stroke-width="0.9"/>
<text x="425.59999999999997" y="215.70000000000002" font-size="7.2" font-weight="bold" text-anchor="end" fill="#111" stroke="#111" stroke-width="0.3">2</text>
<rect x="437.6" y="237.2" width="15.90" height="46.40" fill="#fff" stroke="#000" stroke-width="2"/>
<rect x="455.5" y="212.9" width="15.30" height="70.70" fill="#d4d4d4" stroke="#000" stroke-width="2"/>
<rect x="491.6" y="256.8" width="16.20" height="26.80" fill="#fff" stroke="#000" stroke-width="2"/>
<rect x="509.8" y="269.5" width="15.60" height="14.10" fill="#d4d4d4" stroke="#000" stroke-width="2"/>
<text transform="translate(418.1,276.1) rotate(-90) scale(1.0435,1)" font-size="9.4" font-weight="bold" fill="#0a0a0a" stroke="#0a0a0a" stroke-width="0.25">GSTM3 Expression</text>
<text transform="translate(436.90,293.40) scale(1.0113,1)" font-size="8.8" font-weight="bold" fill="#111" stroke="#111" stroke-width="0.2">Wildtype</text>
<text transform="translate(492.80,293.40) scale(0.9901,1)" font-size="8.8" font-weight="bold" fill="#111" stroke="#111" stroke-width="0.2">Nrf2-KO</text>
<circle cx="438.2" cy="190.7" r="1.7" fill="#000"/>
<text transform="translate(443.00,193.40) scale(0.9367,1)" font-size="8.4" font-style="italic" fill="#000">Sed</text>
<rect x="463.7" y="185.3" width="23.5" height="10.6" fill="#d6d6d6"/>
<polygon points="466.4,189.0 469.59999999999997,189.0 468.0,192.5" fill="#000"/>
<text transform="translate(472.30,193.40) scale(0.9375,1)" font-size="8.4" font-style="italic" fill="#000">ExT</text>
<text transform="translate(33.10,204.30) scale(0.9368,1)" font-size="6.5" font-weight="bold" font-style="italic" fill="#b3202a" stroke="#b3202a" stroke-width="0.15">p=0.0002</text>
<polyline points="37.4,210.4 37.4,206.9 54.6,206.9 54.6,210.4" fill="none" stroke="#b3202a" stroke-width="1"/>
<text transform="translate(80.50,204.30) scale(0.9621,1)" font-size="6.5" font-weight="bold" font-style="italic" fill="#b3202a" stroke="#b3202a" stroke-width="0.15">p=0.0001</text>
<polyline points="68.8,210.4 68.8,206.9 118.1,206.9 118.1,210.4" fill="none" stroke="#b3202a" stroke-width="1"/>
<text transform="translate(51.00,233.70) scale(0.9694,1)" font-size="6.5" font-weight="bold" font-style="italic" fill="#b3202a" stroke="#b3202a" stroke-width="0.15">p=0.0061</text>
<polyline points="37.6,240.1 37.6,236.6 91.1,236.6 91.1,240.1" fill="none" stroke="#b3202a" stroke-width="1"/>
<text transform="translate(98.80,233.70) scale(0.9321,1)" font-size="6.5" font-weight="bold" font-style="italic" fill="#b3202a" stroke="#b3202a" stroke-width="0.15">p=0.026</text>
<polyline points="101.7,240.1 101.7,236.6 118.7,236.6 118.7,240.1" fill="none" stroke="#b3202a" stroke-width="1"/>
<text transform="translate(166.70,204.30) scale(0.9621,1)" font-size="6.5" font-weight="bold" font-style="italic" fill="#b3202a" stroke="#b3202a" stroke-width="0.15">p=0.0075</text>
<polyline points="171.4,210.4 171.4,206.9 187.9,206.9 187.9,210.4" fill="none" stroke="#b3202a" stroke-width="1"/>
<text transform="translate(213.20,204.30) scale(0.9766,1)" font-size="6.5" font-weight="bold" font-style="italic" fill="#b3202a" stroke="#b3202a" stroke-width="0.15">p=0.0001</text>
<polyline points="201.9,210.4 201.9,206.9 251.2,206.9 251.2,210.4" fill="none" stroke="#b3202a" stroke-width="1"/>
<text transform="translate(188.50,228.60) scale(1.0489,1)" font-size="6.5" font-weight="bold" font-style="italic" fill="#b3202a" stroke="#b3202a" stroke-width="0.15">p=0.0388</text>
<polyline points="171.0,234.5 171.0,231.0 224.9,231.0 224.9,234.5" fill="none" stroke="#b3202a" stroke-width="1"/>
<text transform="translate(230.70,228.60) scale(0.9947,1)" font-size="6.5" font-weight="bold" font-style="italic" fill="#b3202a" stroke="#b3202a" stroke-width="0.15">p=0.0492</text>
<polyline points="235.8,234.0 235.8,231.0 251.8,231.0 251.8,234.0" fill="none" stroke="#b3202a" stroke-width="1"/>
<text transform="translate(298.70,204.50) scale(1.0019,1)" font-size="6.5" font-weight="bold" font-style="italic" fill="#b3202a" stroke="#b3202a" stroke-width="0.15">p=0.0034</text>
<polyline points="304.0,210.4 304.0,206.9 321.2,206.9 321.2,210.4" fill="none" stroke="#b3202a" stroke-width="1"/>
<text transform="translate(344.70,204.50) scale(1.0140,1)" font-size="6.5" font-weight="bold" font-style="italic" fill="#b3202a" stroke="#b3202a" stroke-width="0.15">p=0.00016</text>
<polyline points="336.4,210.4 336.4,206.9 384.6,206.9 384.6,210.4" fill="none" stroke="#b3202a" stroke-width="1"/>
<text transform="translate(317.60,229.00) scale(1.0055,1)" font-size="6.5" font-weight="bold" font-style="italic" fill="#b3202a" stroke="#b3202a" stroke-width="0.15">p=0.0078</text>
<polyline points="304.0,235.5 304.0,232.0 352.9,232.0 352.9,235.5" fill="none" stroke="#b3202a" stroke-width="1"/>
<text transform="translate(364.60,229.00) scale(0.9766,1)" font-size="6.5" font-weight="bold" font-style="italic" fill="#b3202a" stroke="#b3202a" stroke-width="0.15">p=0.0015</text>
<polyline points="369.3,235.5 369.3,232.0 383.9,232.0 383.9,235.5" fill="none" stroke="#b3202a" stroke-width="1"/>
<text transform="translate(434.40,204.00) scale(0.9585,1)" font-size="6.5" font-weight="bold" font-style="italic" fill="#b3202a" stroke="#b3202a" stroke-width="0.15">p=0.0075</text>
<polyline points="439.8,209.9 439.8,206.4 456.2,206.4 456.2,209.9" fill="none" stroke="#b3202a" stroke-width="1"/>
<text transform="translate(479.70,204.00) scale(1.0140,1)" font-size="6.5" font-weight="bold" font-style="italic" fill="#b3202a" stroke="#b3202a" stroke-width="0.15">p=0.00016</text>
<polyline points="471.4,210.2 471.4,206.7 519.6,206.7 519.6,210.2" fill="none" stroke="#b3202a" stroke-width="1"/>
<text transform="translate(452.00,220.80) scale(1.0019,1)" font-size="6.5" font-weight="bold" font-style="italic" fill="#b3202a" stroke="#b3202a" stroke-width="0.15">p=0.0051</text>
<polyline points="444.9,227.3 444.9,223.8 487.9,223.8 487.9,227.3" fill="none" stroke="#b3202a" stroke-width="1"/>
<text transform="translate(499.20,220.80) scale(0.9585,1)" font-size="6.5" font-weight="bold" font-style="italic" fill="#b3202a" stroke="#b3202a" stroke-width="0.15">p=0.0065</text>
<polyline points="504.3,227.3 504.3,223.8 519.6,223.8 519.6,227.3" fill="none" stroke="#b3202a" stroke-width="1"/>
<line x1="43.6" y1="244.5" x2="43.6" y2="252.5" stroke="#1a1a1a" stroke-width="0.9"/>
<line x1="39.35" y1="244.5" x2="47.85" y2="244.5" stroke="#1a1a1a" stroke-width="0.9"/>
<line x1="39.35" y1="252.5" x2="47.85" y2="252.5" stroke="#1a1a1a" stroke-width="0.9"/>
<circle cx="43.6" cy="238" r="1.55" fill="#000"/>
<circle cx="43.6" cy="242.5" r="1.55" fill="#000"/>
<circle cx="40.3" cy="256" r="1.55" fill="#000"/>
<circle cx="46.6" cy="256" r="1.55" fill="#000"/>
<line x1="61.5" y1="209.6" x2="61.5" y2="219" stroke="#1a1a1a" stroke-width="0.9"/>
<line x1="57.25" y1="209.6" x2="65.75" y2="209.6" stroke="#1a1a1a" stroke-width="0.9"/>
<line x1="57.25" y1="219" x2="65.75" y2="219" stroke="#1a1a1a" stroke-width="0.9"/>
<polygon points="59.80,204.50 63.20,204.50 61.5,207.50" fill="#000"/>
<polygon points="59.80,208.00 63.20,208.00 61.5,211.00" fill="#000"/>
<polygon points="56.80,212.00 60.20,212.00 58.5,215.00" fill="#000"/>
<polygon points="62.80,212.00 66.20,212.00 64.5,215.00" fill="#000"/>
<polygon points="59.80,224.50 63.20,224.50 61.5,227.50" fill="#000"/>
<line x1="98.8" y1="261.8" x2="98.8" y2="265" stroke="#1a1a1a" stroke-width="0.9"/>
<line x1="94.55" y1="261.8" x2="103.05" y2="261.8" stroke="#1a1a1a" stroke-width="0.9"/>
<line x1="94.55" y1="265" x2="103.05" y2="265" stroke="#1a1a1a" stroke-width="0.9"/>
<circle cx="98.4" cy="258" r="1.55" fill="#000"/>
<circle cx="91" cy="262" r="1.55" fill="#000"/>
<circle cx="91" cy="268.5" r="1.55" fill="#000"/>
<circle cx="106.5" cy="263.5" r="1.55" fill="#000"/>
<line x1="117" y1="269" x2="117" y2="272" stroke="#1a1a1a" stroke-width="0.9"/>
<line x1="112.75" y1="269" x2="121.25" y2="269" stroke="#1a1a1a" stroke-width="0.9"/>
<line x1="112.75" y1="272" x2="121.25" y2="272" stroke="#1a1a1a" stroke-width="0.9"/>
<polygon points="111.80,264.30 115.20,264.30 113.5,267.30" fill="#000"/>
<polygon points="118.50,264.30 121.90,264.30 120.2,267.30" fill="#000"/>
<polygon points="114.90,272.40 118.30,272.40 116.6,275.40" fill="#000"/>
<polygon points="115.30,267.50 118.70,267.50 117,270.50" fill="#000"/>
<line x1="177.4" y1="230.7" x2="177.4" y2="239.5" stroke="#1a1a1a" stroke-width="0.9"/>
<line x1="173.15" y1="230.7" x2="181.65" y2="230.7" stroke="#1a1a1a" stroke-width="0.9"/>
<line x1="173.15" y1="239.5" x2="181.65" y2="239.5" stroke="#1a1a1a" stroke-width="0.9"/>
<circle cx="177.5" cy="223.1" r="1.55" fill="#000"/>
<circle cx="177.5" cy="228.1" r="1.55" fill="#000"/>
<circle cx="177.5" cy="232.1" r="1.55" fill="#000"/>
<circle cx="177.5" cy="243.2" r="1.55" fill="#000"/>
<circle cx="177.5" cy="247.6" r="1.55" fill="#000"/>
<line x1="195.5" y1="210.1" x2="195.5" y2="219" stroke="#1a1a1a" stroke-width="0.9"/>
<line x1="191.25" y1="210.1" x2="199.75" y2="210.1" stroke="#1a1a1a" stroke-width="0.9"/>
<line x1="191.25" y1="219" x2="199.75" y2="219" stroke="#1a1a1a" stroke-width="0.9"/>
<polygon points="194.80,199.00 198.20,199.00 196.5,202.00" fill="#000"/>
<polygon points="193.80,211.50 197.20,211.50 195.5,214.50" fill="#000"/>
<polygon points="190.30,211.50 193.70,211.50 192,214.50" fill="#000"/>
<polygon points="193.80,219.50 197.20,219.50 195.5,222.50" fill="#000"/>
<line x1="232.8" y1="245.5" x2="232.8" y2="247.5" stroke="#1a1a1a" stroke-width="0.9"/>
<line x1="228.55" y1="245.5" x2="237.05" y2="245.5" stroke="#1a1a1a" stroke-width="0.9"/>
<line x1="228.55" y1="247.5" x2="237.05" y2="247.5" stroke="#1a1a1a" stroke-width="0.9"/>
<circle cx="225" cy="243" r="1.55" fill="#000"/>
<circle cx="230.5" cy="245.5" r="1.55" fill="#000"/>
<circle cx="235" cy="246.5" r="1.55" fill="#000"/>
<circle cx="240.5" cy="246" r="1.55" fill="#000"/>
<line x1="251.5" y1="251.8" x2="251.5" y2="262" stroke="#1a1a1a" stroke-width="0.9"/>
<line x1="247.25" y1="251.8" x2="255.75" y2="251.8" stroke="#1a1a1a" stroke-width="0.9"/>
<line x1="247.25" y1="262" x2="255.75" y2="262" stroke="#1a1a1a" stroke-width="0.9"/>
<polygon points="249.00,240.20 252.40,240.20 250.7,243.20" fill="#000"/>
<polygon points="249.00,250.30 252.40,250.30 250.7,253.30" fill="#000"/>
<polygon points="245.60,257.00 249.00,257.00 247.3,260.00" fill="#000"/>
<polygon points="251.80,257.00 255.20,257.00 253.5,260.00" fill="#000"/>
<polygon points="249.00,262.90 252.40,262.90 250.7,265.90" fill="#000"/>
<line x1="310.2" y1="240.2" x2="310.2" y2="245" stroke="#1a1a1a" stroke-width="0.9"/>
<line x1="305.95" y1="240.2" x2="314.45" y2="240.2" stroke="#1a1a1a" stroke-width="0.9"/>
<line x1="305.95" y1="245" x2="314.45" y2="245" stroke="#1a1a1a" stroke-width="0.9"/>
<circle cx="310" cy="232.1" r="1.55" fill="#000"/>
<circle cx="310" cy="250.2" r="1.55" fill="#000"/>
<circle cx="303" cy="243" r="1.55" fill="#000"/>
<circle cx="316" cy="243" r="1.55" fill="#000"/>
<line x1="328.5" y1="214" x2="328.5" y2="217" stroke="#1a1a1a" stroke-width="0.9"/>
<line x1="324.25" y1="214" x2="332.75" y2="214" stroke="#1a1a1a" stroke-width="0.9"/>
<line x1="324.25" y1="217" x2="332.75" y2="217" stroke="#1a1a1a" stroke-width="0.9"/>
<polygon points="323.30,208.10 326.70,208.10 325,211.10" fill="#000"/>
<polygon points="331.30,208.10 334.70,208.10 333,211.10" fill="#000"/>
<polygon points="327.30,211.00 330.70,211.00 329,214.00" fill="#000"/>
<polygon points="324.30,217.00 327.70,217.00 326,220.00" fill="#000"/>
<polygon points="330.30,217.00 333.70,217.00 332,220.00" fill="#000"/>
<line x1="365" y1="258.4" x2="365" y2="261.5" stroke="#1a1a1a" stroke-width="0.9"/>
<line x1="360.75" y1="258.4" x2="369.25" y2="258.4" stroke="#1a1a1a" stroke-width="0.9"/>
<line x1="360.75" y1="261.5" x2="369.25" y2="261.5" stroke="#1a1a1a" stroke-width="0.9"/>
<circle cx="361" cy="255.5" r="1.55" fill="#000"/>
<circle cx="368.5" cy="255.5" r="1.55" fill="#000"/>
<circle cx="364.5" cy="260.5" r="1.55" fill="#000"/>
<circle cx="357" cy="264" r="1.55" fill="#000"/>
<circle cx="372" cy="261" r="1.55" fill="#000"/>
<line x1="383" y1="272" x2="383" y2="275" stroke="#1a1a1a" stroke-width="0.9"/>
<line x1="378.75" y1="272" x2="387.25" y2="272" stroke="#1a1a1a" stroke-width="0.9"/>
<line x1="378.75" y1="275" x2="387.25" y2="275" stroke="#1a1a1a" stroke-width="0.9"/>
<polygon points="374.30,268.80 377.70,268.80 376,271.80" fill="#000"/>
<polygon points="378.30,270.50 381.70,270.50 380,273.50" fill="#000"/>
<polygon points="386.30,270.50 389.70,270.50 388,273.50" fill="#000"/>
<polygon points="382.30,271.00 385.70,271.00 384,274.00" fill="#000"/>
<line x1="445.5" y1="234.2" x2="445.5" y2="238.8" stroke="#1a1a1a" stroke-width="0.9"/>
<line x1="441.25" y1="234.2" x2="449.75" y2="234.2" stroke="#1a1a1a" stroke-width="0.9"/>
<line x1="441.25" y1="238.8" x2="449.75" y2="238.8" stroke="#1a1a1a" stroke-width="0.9"/>
<circle cx="445.5" cy="231.5" r="1.55" fill="#000"/>
<circle cx="445.5" cy="242.2" r="1.55" fill="#000"/>
<circle cx="437.5" cy="237" r="1.55" fill="#000"/>
<circle cx="453" cy="237" r="1.55" fill="#000"/>
<line x1="463.3" y1="210" x2="463.3" y2="215" stroke="#1a1a1a" stroke-width="0.9"/>
<line x1="459.05" y1="210" x2="467.55" y2="210" stroke="#1a1a1a" stroke-width="0.9"/>
<line x1="459.05" y1="215" x2="467.55" y2="215" stroke="#1a1a1a" stroke-width="0.9"/>
<polygon points="461.60,201.10 465.00,201.10 463.3,204.10" fill="#000"/>
<polygon points="461.60,212.60 465.00,212.60 463.3,215.60" fill="#000"/>
<polygon points="456.30,211.00 459.70,211.00 458,214.00" fill="#000"/>
<polygon points="461.60,218.00 465.00,218.00 463.3,221.00" fill="#000"/>
<polygon points="466.30,211.00 469.70,211.00 468,214.00" fill="#000"/>
<line x1="499.3" y1="254.5" x2="499.3" y2="257" stroke="#1a1a1a" stroke-width="0.9"/>
<line x1="495.05" y1="254.5" x2="503.55" y2="254.5" stroke="#1a1a1a" stroke-width="0.9"/>
<line x1="495.05" y1="257" x2="503.55" y2="257" stroke="#1a1a1a" stroke-width="0.9"/>
<circle cx="493" cy="254.5" r="1.55" fill="#000"/>
<circle cx="497" cy="254" r="1.55" fill="#000"/>
<circle cx="501" cy="254.5" r="1.55" fill="#000"/>
<circle cx="505" cy="254.5" r="1.55" fill="#000"/>
<line x1="518" y1="267" x2="518" y2="270" stroke="#1a1a1a" stroke-width="0.9"/>
<line x1="513.75" y1="267" x2="522.25" y2="267" stroke="#1a1a1a" stroke-width="0.9"/>
<line x1="513.75" y1="270" x2="522.25" y2="270" stroke="#1a1a1a" stroke-width="0.9"/>
<polygon points="509.30,265.00 512.70,265.00 511,268.00" fill="#000"/>
<polygon points="514.30,265.00 517.70,265.00 516,268.00" fill="#000"/>
<polygon points="519.30,265.00 522.70,265.00 521,268.00" fill="#000"/>
<polygon points="522.30,265.00 525.70,265.00 524,268.00" fill="#000"/>
</svg></body></html>
